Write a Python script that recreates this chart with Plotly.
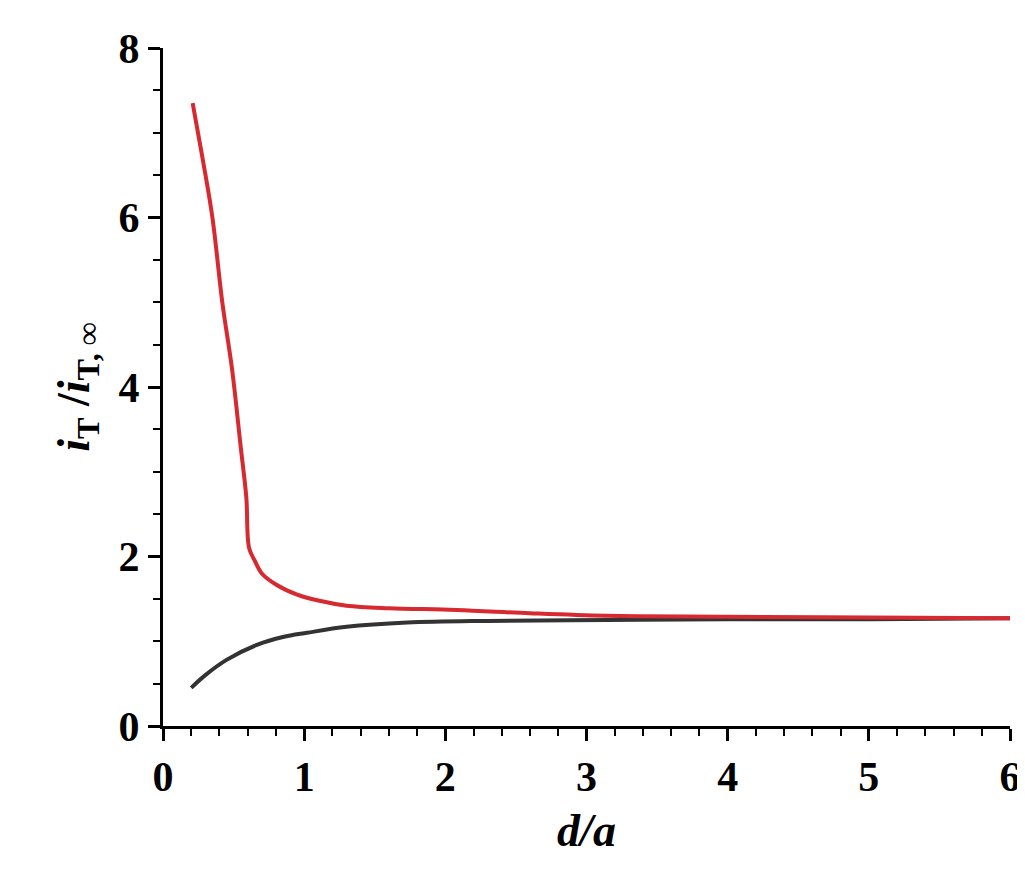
import plotly.graph_objects as go

# courbe rouge
x_rouge = [0.21, 0.28, 0.35, 0.42, 0.49, 0.55, 0.59, 0.61, 0.65, 0.7, 0.8, 0.95, 1.1, 1.3, 1.6, 2.08, 2.6, 3.14, 4.0, 5.0, 6.0]
y_rouge = [7.35, 6.7, 6.0, 5.0, 4.2, 3.3, 2.7, 2.1, 1.95, 1.8, 1.67, 1.55, 1.48, 1.42, 1.39, 1.37, 1.33, 1.3, 1.29, 1.28, 1.27]

# courbe noire
x_noir = [0.2, 0.3, 0.45, 0.67, 0.85, 1.02, 1.3, 1.73, 2.3, 3.14, 4.0, 5.0, 6.0]
y_noir = [0.45, 0.6, 0.78, 0.96, 1.05, 1.1, 1.17, 1.22, 1.24, 1.25, 1.26, 1.26, 1.27]

fig = go.Figure()
fig.add_trace(go.Scatter(x=x_noir, y=y_noir, mode='lines', line=dict(color='#333333', width=4, shape='spline')))
fig.add_trace(go.Scatter(x=x_rouge, y=y_rouge, mode='lines', line=dict(color='#d62a30', width=4, shape='spline')))

police = dict(family='Liberation Serif', size=42, color='black')
titre = dict(family='Liberation Serif', size=46, color='black')
axe = dict(showline=True, linecolor='black', linewidth=3, ticks='outside', ticklen=12, tickwidth=3,
           tickcolor='black', showgrid=False, zeroline=False, tickfont=police,
           tickprefix='<b>', ticksuffix='</b>',
           minor=dict(ticks='outside', ticklen=7, tickwidth=2, tickcolor='black'))

fig.update_xaxes(range=[0, 6], dtick=1, title=dict(text='<b><i>d/a</i></b>', font=titre, standoff=15), **axe)
fig.update_yaxes(range=[0, 8], dtick=2,
                 title=dict(text='<b><i>i</i><sub>T</sub> /<i>i</i><sub>T, ∞</sub></b>', font=titre, standoff=15), **axe)

fig.update_layout(width=1025, height=872, showlegend=False, plot_bgcolor='white', paper_bgcolor='white',
                  margin=dict(l=155, r=20, t=40, b=154))

fig.write_html('out.html')
